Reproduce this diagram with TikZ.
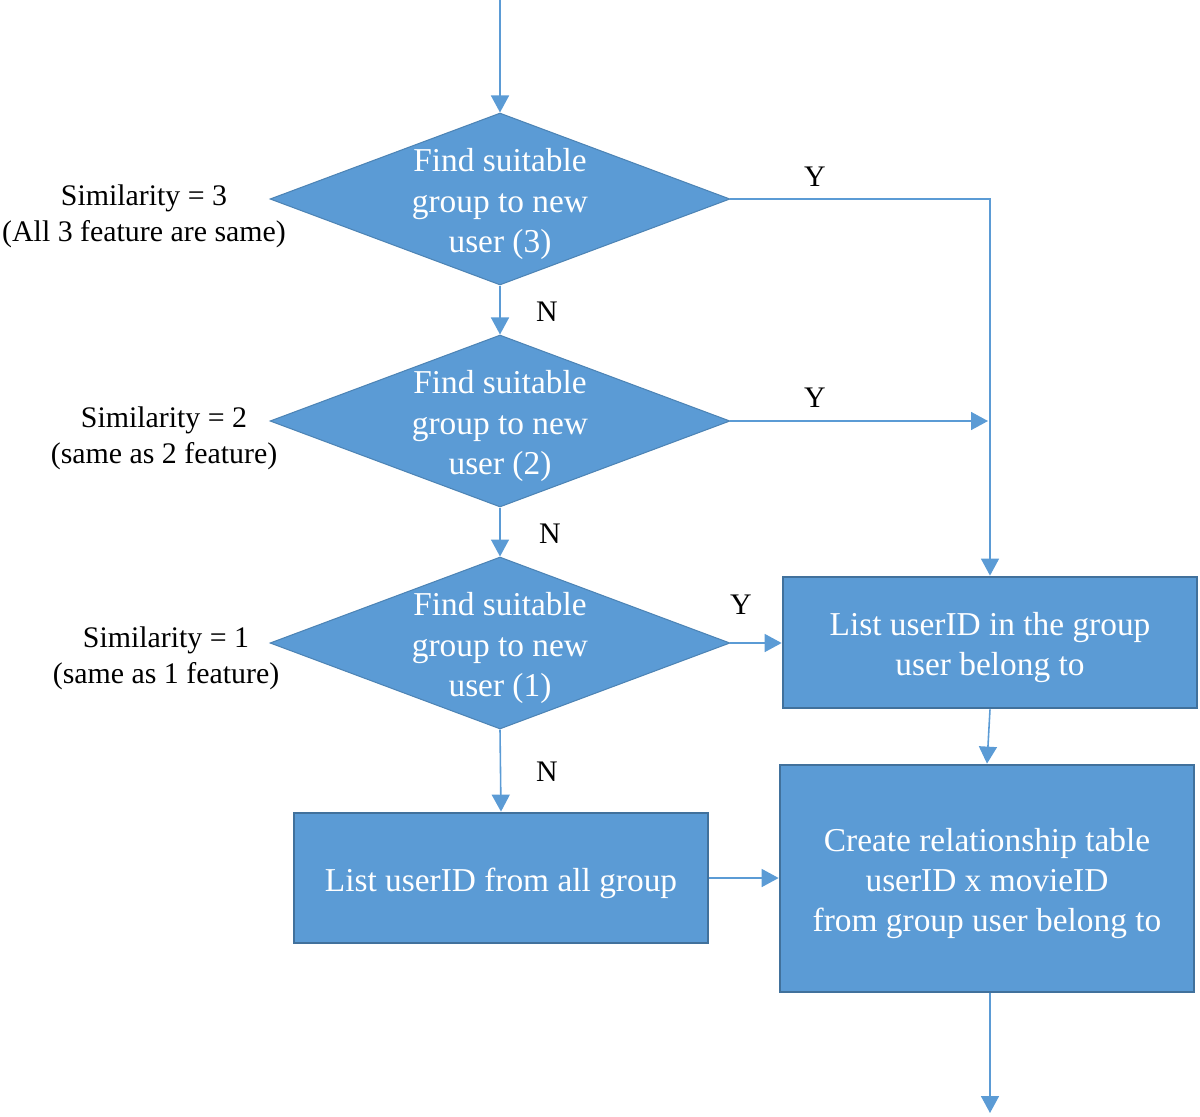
\documentclass[tikz,border=0pt]{standalone}
\usepackage{fontspec}
\setmainfont{Liberation Serif}
\usetikzlibrary{shapes.geometric,arrows.meta}
\definecolor{fillblue}{HTML}{5B9BD5}
\definecolor{edgeblue}{HTML}{41719C}
\definecolor{lineblue}{HTML}{5B9BD5}
\begin{document}
\begin{tikzpicture}[x=0.02cm,y=-0.02cm,
  dia/.style={diamond,draw=fillblue!85!black,line width=0.6pt,fill=fillblue,minimum width=9.2cm,minimum height=3.44cm,inner sep=0pt},
  dtext/.style={text=white,align=center,font=\fontsize{19}{22.8}\selectfont,yshift=-0.1cm},
  procbox/.style={rectangle,draw=edgeblue,line width=1.6pt,fill=fillblue,minimum width=8.28cm,inner sep=0pt},
  conn/.style={draw=lineblue,line width=0.9pt,-{Triangle[width=0.36cm,length=0.34cm]}},
  sidelabel/.style={align=center,font=\fontsize{17}{20.5}\selectfont},
  yn/.style={font=\fontsize{17}{19}\selectfont}]
\useasboundingbox (0,0) rectangle (1200,1116);
\coordinate (start) at (500,0);
\node[dia] (d1) at (500,199) {};
\node[dtext] at (d1.center) {Find suitable\\group to new\\user (3)};
\node[dia] (d2) at (500,421) {};
\node[dtext] at (d2.center) {Find suitable\\group to new\\user (2)};
\node[dia] (d3) at (500,643) {};
\node[dtext] at (d3.center) {Find suitable\\group to new\\user (1)};
\node[procbox,minimum height=2.62cm] (ba) at (990,642.5) {};
\node[dtext] at (ba.center) {List userID in the group\\user belong to};
\node[procbox,minimum height=2.6cm] (bb) at (501,878) {};
\node[dtext] at (bb.center) {List userID from all group};
\node[procbox,minimum height=4.54cm] (bc) at (987,878.5) {};
\node[dtext] at (bc.center) {Create relationship table\\userID x movieID\\from group user belong to};
\coordinate (corner) at (990,199);
\coordinate (join) at (988,421);
\coordinate (finish) at (990,1113);
\node[sidelabel] (s3) at (144,216) {Similarity = 3\\(All 3 feature are same)};
\node[sidelabel] (s2) at (164,438) {Similarity = 2\\(same as 2 feature)};
\node[sidelabel] (s1) at (166,658) {Similarity = 1\\(same as 1 feature)};
\node[yn] (y1) at (815,177) {Y};
\node[yn] (y2) at (815,398) {Y};
\node[yn] (y3) at (741,605) {Y};
\node[yn] (n1) at (547,312) {N};
\node[yn] (n2) at (550,534) {N};
\node[yn] (n3) at (547,772) {N};
\draw[conn] (start) -- (d1.north);
\draw[conn] (d1.south) -- (d2.north);
\draw[conn] (d2.south) -- (d3.north);
\draw[conn] (d3.south) -- (bb.north);
\draw[conn] (d1.east) -- (corner) -- (ba.north -| corner);
\draw[conn] (d2.east) -- (join);
\draw[conn] (d3.east) -- (ba.west |- d3.east);
\draw[conn] (ba.south) -- (bc.north);
\draw[conn] (bb.east) -- (bc.west |- bb.east);
\draw[conn] (bc.south -| finish) -- (finish);
\end{tikzpicture}
\end{document}
